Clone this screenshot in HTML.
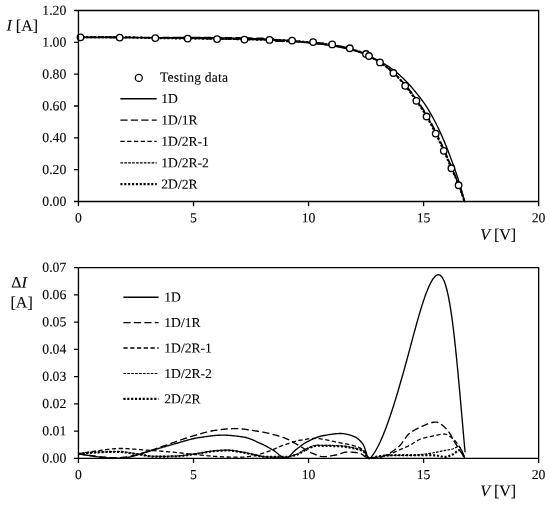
<!DOCTYPE html>
<html lang="en"><head><meta charset="utf-8"><title>I-V characteristics and errors</title>
<style>html,body{margin:0;padding:0;background:#fff}svg{display:block}</style></head>
<body>
<svg width="550" height="505" viewBox="0 0 550 505" font-family="'Liberation Serif', 'Times New Roman', serif" fill="#000">
<style>text{stroke:#000;stroke-width:0.1px}</style>
<rect width="550" height="505" fill="#fff"/>
<g fill="none" stroke="#000" stroke-linejoin="round">
<path d="M78.45,37.00 L78.95,37.02 L80.10,37.05 L81.25,37.08 L82.41,37.10 L83.56,37.12 L84.71,37.14 L85.86,37.16 L87.01,37.18 L88.16,37.20 L89.31,37.22 L90.46,37.24 L91.61,37.26 L92.77,37.28 L93.92,37.30 L95.07,37.32 L96.22,37.33 L97.37,37.35 L98.52,37.37 L99.67,37.38 L100.82,37.39 L101.98,37.40 L103.13,37.42 L104.28,37.43 L105.43,37.44 L106.58,37.45 L107.73,37.46 L108.88,37.47 L110.03,37.48 L111.19,37.49 L112.34,37.50 L113.49,37.51 L114.64,37.52 L115.79,37.53 L116.94,37.54 L118.09,37.55 L119.25,37.56 L120.40,37.57 L121.55,37.57 L122.70,37.58 L123.85,37.58 L125.00,37.59 L126.15,37.60 L127.30,37.60 L128.45,37.61 L129.61,37.61 L130.76,37.61 L131.91,37.62 L133.06,37.62 L134.21,37.62 L135.36,37.61 L136.51,37.61 L137.66,37.61 L138.82,37.61 L139.97,37.60 L141.12,37.60 L142.27,37.60 L143.42,37.60 L144.57,37.59 L145.72,37.59 L146.88,37.59 L148.03,37.58 L149.18,37.58 L150.33,37.58 L151.48,37.57 L152.63,37.56 L153.78,37.56 L154.93,37.55 L156.08,37.55 L157.24,37.54 L158.39,37.53 L159.54,37.53 L160.69,37.52 L161.84,37.51 L162.99,37.51 L164.14,37.50 L165.30,37.50 L166.45,37.49 L167.60,37.49 L168.75,37.48 L169.90,37.47 L171.05,37.47 L172.20,37.46 L173.35,37.45 L174.50,37.45 L175.66,37.44 L176.81,37.44 L177.96,37.43 L179.11,37.42 L180.26,37.42 L181.41,37.41 L182.56,37.41 L183.72,37.40 L184.87,37.40 L186.02,37.39 L187.17,37.39 L188.32,37.39 L189.47,37.38 L190.62,37.38 L191.77,37.38 L192.93,37.38 L194.08,37.38 L195.23,37.38 L196.38,37.38 L197.53,37.38 L198.68,37.38 L199.83,37.38 L200.98,37.38 L202.13,37.38 L203.29,37.38 L204.44,37.38 L205.59,37.38 L206.74,37.38 L207.89,37.39 L209.04,37.39 L210.19,37.40 L211.35,37.40 L212.50,37.41 L213.65,37.42 L214.80,37.43 L215.95,37.44 L217.10,37.45 L218.25,37.46 L219.40,37.48 L220.56,37.49 L221.71,37.50 L222.86,37.52 L224.01,37.53 L225.16,37.55 L226.31,37.56 L227.46,37.58 L228.61,37.60 L229.76,37.62 L230.92,37.64 L232.07,37.65 L233.22,37.67 L234.37,37.70 L235.52,37.72 L236.67,37.74 L237.82,37.76 L238.97,37.79 L240.13,37.81 L241.28,37.83 L242.43,37.86 L243.58,37.88 L244.73,37.91 L245.88,37.93 L247.03,37.96 L248.19,37.98 L249.34,38.00 L250.49,38.03 L251.64,38.05 L252.79,38.07 L253.94,38.09 L255.09,38.12 L256.24,38.14 L257.39,38.16 L258.55,38.19 L259.70,38.21 L260.85,38.23 L262.00,38.26 L263.15,38.28 L264.30,38.31 L265.45,38.34 L266.61,38.37 L267.76,38.40 L268.91,38.44 L270.06,38.47 L271.21,38.51 L272.36,38.55 L273.51,38.59 L274.66,41.38 L275.81,41.39 L276.97,41.40 L278.12,41.41 L279.27,41.42 L280.42,41.43 L281.57,41.45 L282.72,41.46 L283.87,41.48 L285.02,41.50 L286.18,41.51 L287.33,41.53 L288.48,41.54 L289.63,41.55 L290.78,41.56 L291.93,41.58 L293.08,41.59 L294.24,41.60 L295.39,41.63 L296.54,41.65 L297.69,41.68 L298.84,41.72 L299.99,41.75 L301.14,41.79 L302.29,41.84 L303.44,41.88 L304.60,41.93 L305.75,41.97 L306.90,42.03 L308.05,42.08 L309.20,42.14 L310.35,42.21 L311.50,42.27 L312.66,42.35 L313.81,42.42 L314.96,42.50 L316.11,42.58 L317.26,42.67 L318.41,42.76 L319.56,42.86 L320.71,42.96 L321.87,43.08 L323.02,43.21 L324.17,43.35 L325.32,43.49 L326.47,43.65 L327.62,43.81 L328.77,43.97 L329.92,44.14 L331.07,44.32 L332.23,44.51 L333.38,44.70 L334.53,44.91 L335.68,45.13 L336.83,45.36 L337.98,45.60 L339.13,45.86 L340.29,46.13 L341.44,46.40 L342.59,46.69 L343.74,46.98 L344.89,47.28 L346.04,47.57 L347.19,47.87 L348.34,48.17 L349.50,48.48 L350.65,48.79 L351.80,49.11 L352.95,49.44 L354.10,49.77 L355.25,50.11 L356.40,50.47 L357.55,50.85 L358.71,51.24 L359.86,51.64 L361.01,52.05 L362.16,52.47 L363.31,52.91 L364.46,53.38 L365.61,53.88 L366.76,54.48 L367.92,55.26 L369.07,56.04 L370.22,56.74 L371.37,57.41 L372.52,58.05 L373.67,58.68 L374.82,59.31 L375.97,59.94 L377.12,60.59 L378.28,61.26 L379.43,61.96 L380.58,62.71 L381.73,63.49 L382.88,64.28 L384.03,65.10 L385.18,65.94 L386.33,66.80 L387.49,67.68 L388.64,68.58 L389.79,69.50 L390.94,70.45 L392.09,71.42 L393.24,72.42 L394.39,73.44 L395.55,74.51 L396.70,75.62 L397.85,76.77 L399.00,77.96 L400.15,79.16 L401.30,80.38 L402.45,81.61 L403.60,82.87 L404.75,84.14 L405.91,85.44 L407.06,86.78 L408.21,88.18 L409.36,89.63 L410.51,91.12 L411.66,92.64 L412.81,94.20 L413.97,95.77 L415.12,97.37 L416.27,98.98 L417.42,100.60 L418.57,102.24 L419.72,103.89 L420.87,105.58 L422.02,107.30 L423.18,109.05 L424.33,110.84 L425.48,112.68 L426.63,114.57 L427.78,116.53 L428.93,118.55 L430.08,120.64 L431.23,122.79 L432.38,124.98 L433.54,127.21 L434.69,129.47 L435.84,131.76 L436.99,134.10 L438.14,136.50 L439.29,138.96 L440.44,141.46 L441.60,144.00 L442.75,146.57 L443.90,149.16 L445.05,151.79 L446.20,154.45 L447.35,157.15 L448.50,159.90 L449.65,162.67 L450.80,165.46 L451.96,168.26 L453.11,171.03 L454.26,173.79 L455.41,176.57 L456.56,179.40 L457.71,182.31 L458.86,185.32 L460.02,188.44 L461.17,191.66 L462.32,194.96 L463.47,198.35 L464.62,201.50 L465.08,201.50" stroke-width="1.35" stroke-dasharray="7.2 3.27"/>
<path d="M78.45,37.00 L78.95,37.00 L80.10,37.01 L81.25,37.02 L82.41,37.02 L83.56,37.02 L84.71,37.03 L85.86,37.03 L87.01,37.03 L88.16,37.03 L89.31,37.03 L90.46,37.03 L91.61,37.02 L92.77,37.02 L93.92,37.02 L95.07,37.02 L96.22,37.02 L97.37,37.02 L98.52,37.01 L99.67,37.01 L100.82,37.01 L101.98,37.01 L103.13,37.00 L104.28,37.00 L105.43,37.00 L106.58,37.00 L107.73,36.99 L108.88,36.99 L110.03,36.99 L111.19,36.99 L112.34,36.99 L113.49,36.99 L114.64,37.00 L115.79,37.00 L116.94,37.01 L118.09,37.01 L119.25,37.02 L120.40,37.03 L121.55,37.05 L122.70,37.06 L123.85,37.07 L125.00,37.09 L126.15,37.11 L127.30,37.12 L128.45,37.14 L129.61,37.16 L130.76,37.18 L131.91,37.20 L133.06,37.22 L134.21,37.24 L135.36,37.27 L136.51,37.29 L137.66,37.31 L138.82,37.33 L139.97,37.36 L141.12,37.38 L142.27,37.40 L143.42,37.43 L144.57,37.45 L145.72,37.47 L146.88,37.49 L148.03,37.52 L149.18,37.54 L150.33,37.56 L151.48,37.58 L152.63,37.61 L153.78,37.63 L154.93,37.65 L156.08,37.67 L157.24,37.69 L158.39,37.72 L159.54,37.74 L160.69,37.76 L161.84,37.78 L162.99,37.81 L164.14,37.83 L165.30,37.85 L166.45,37.88 L167.60,37.90 L168.75,37.92 L169.90,37.95 L171.05,37.97 L172.20,37.99 L173.35,38.02 L174.50,38.04 L175.66,38.06 L176.81,38.09 L177.96,38.11 L179.11,38.14 L180.26,38.16 L181.41,38.19 L182.56,38.22 L183.72,38.24 L184.87,38.27 L186.02,38.29 L187.17,38.32 L188.32,38.35 L189.47,38.37 L190.62,38.40 L191.77,38.42 L192.93,38.45 L194.08,38.48 L195.23,38.50 L196.38,38.53 L197.53,38.56 L198.68,38.58 L199.83,38.61 L200.98,38.63 L202.13,38.66 L203.29,38.69 L204.44,38.71 L205.59,38.74 L206.74,38.77 L207.89,38.79 L209.04,38.82 L210.19,38.85 L211.35,38.87 L212.50,38.90 L213.65,38.92 L214.80,38.95 L215.95,38.97 L217.10,39.00 L218.25,39.02 L219.40,39.05 L220.56,39.07 L221.71,39.09 L222.86,39.12 L224.01,39.14 L225.16,39.17 L226.31,39.19 L227.46,39.22 L228.61,39.24 L229.76,39.27 L230.92,39.29 L232.07,39.32 L233.22,39.34 L234.37,39.36 L235.52,39.39 L236.67,39.41 L237.82,39.43 L238.97,39.45 L240.13,39.47 L241.28,39.49 L242.43,39.50 L243.58,39.51 L244.73,39.53 L245.88,39.54 L247.03,39.54 L248.19,39.55 L249.34,39.56 L250.49,39.56 L251.64,39.56 L252.79,39.57 L253.94,39.57 L255.09,39.56 L256.24,39.56 L257.39,39.55 L258.55,39.55 L259.70,39.54 L260.85,39.53 L262.00,39.52 L263.15,39.51 L264.30,39.50 L265.45,39.49 L266.61,39.49 L267.76,39.48 L268.91,39.48 L270.06,39.47 L271.21,39.47 L272.36,39.46 L273.51,39.46 L274.66,40.56 L275.81,40.62 L276.97,40.67 L278.12,40.74 L279.27,40.80 L280.42,40.86 L281.57,40.92 L282.72,40.99 L283.87,41.05 L285.02,41.11 L286.18,41.18 L287.33,41.25 L288.48,41.31 L289.63,41.38 L290.78,41.45 L291.93,41.52 L293.08,41.60 L294.24,41.67 L295.39,41.75 L296.54,41.83 L297.69,41.92 L298.84,42.01 L299.99,42.10 L301.14,42.19 L302.29,42.28 L303.44,42.38 L304.60,42.48 L305.75,42.58 L306.90,42.69 L308.05,42.79 L309.20,42.90 L310.35,43.01 L311.50,43.11 L312.66,43.22 L313.81,43.32 L314.96,43.43 L316.11,43.54 L317.26,43.65 L318.41,43.76 L319.56,43.87 L320.71,43.99 L321.87,44.11 L323.02,44.23 L324.17,44.35 L325.32,44.48 L326.47,44.61 L327.62,44.75 L328.77,44.89 L329.92,45.04 L331.07,45.19 L332.23,45.35 L333.38,45.52 L334.53,45.70 L335.68,45.89 L336.83,46.09 L337.98,46.31 L339.13,46.53 L340.29,46.76 L341.44,47.00 L342.59,47.25 L343.74,47.51 L344.89,47.78 L346.04,48.05 L347.19,48.33 L348.34,48.62 L349.50,48.92 L350.65,49.21 L351.80,49.52 L352.95,49.83 L354.10,50.15 L355.25,50.48 L356.40,50.82 L357.55,51.18 L358.71,51.56 L359.86,51.95 L361.01,52.35 L362.16,52.77 L363.31,53.21 L364.46,53.68 L365.61,54.16 L366.76,54.67 L367.92,55.33 L369.07,56.04 L370.22,56.74 L371.37,57.41 L372.52,58.05 L373.67,58.68 L374.82,59.31 L375.97,59.94 L377.12,60.59 L378.28,61.26 L379.43,61.97 L380.58,62.72 L381.73,63.50 L382.88,64.30 L384.03,65.12 L385.18,65.96 L386.33,66.83 L387.49,67.72 L388.64,68.64 L389.79,69.58 L390.94,70.54 L392.09,71.52 L393.24,72.53 L394.39,73.57 L395.55,74.66 L396.70,75.79 L397.85,76.96 L399.00,78.17 L400.15,79.41 L401.30,80.68 L402.45,81.98 L403.60,83.30 L404.75,84.64 L405.91,86.00 L407.06,87.41 L408.21,88.85 L409.36,90.33 L410.51,91.84 L411.66,93.37 L412.81,94.92 L413.97,96.50 L415.12,98.09 L416.27,99.69 L417.42,101.30 L418.57,102.94 L419.72,104.59 L420.87,106.28 L422.02,108.00 L423.18,109.76 L424.33,111.57 L425.48,113.42 L426.63,115.32 L427.78,117.29 L428.93,119.33 L430.08,121.43 L431.23,123.58 L432.38,125.77 L433.54,128.00 L434.69,130.25 L435.84,132.53 L436.99,134.85 L438.14,137.22 L439.29,139.63 L440.44,142.08 L441.60,144.56 L442.75,147.07 L443.90,149.60 L445.05,152.16 L446.20,154.78 L447.35,157.44 L448.50,160.13 L449.65,162.85 L450.80,165.58 L451.96,168.30 L453.11,171.01 L454.26,173.71 L455.41,176.45 L456.56,179.25 L457.71,182.14 L458.86,185.15 L460.02,188.27 L461.17,191.51 L462.32,194.86 L463.47,198.31 L464.62,201.50 L465.08,201.50" stroke-width="1.3" stroke-dasharray="4.25 2.52"/>
<path d="M78.45,37.00 L78.95,37.00 L80.10,37.02 L81.25,37.03 L82.41,37.04 L83.56,37.04 L84.71,37.05 L85.86,37.06 L87.01,37.06 L88.16,37.06 L89.31,37.07 L90.46,37.07 L91.61,37.07 L92.77,37.08 L93.92,37.08 L95.07,37.08 L96.22,37.09 L97.37,37.09 L98.52,37.09 L99.67,37.10 L100.82,37.10 L101.98,37.10 L103.13,37.11 L104.28,37.11 L105.43,37.11 L106.58,37.12 L107.73,37.12 L108.88,37.13 L110.03,37.13 L111.19,37.14 L112.34,37.14 L113.49,37.15 L114.64,37.16 L115.79,37.17 L116.94,37.18 L118.09,37.19 L119.25,37.20 L120.40,37.22 L121.55,37.23 L122.70,37.25 L123.85,37.27 L125.00,37.29 L126.15,37.32 L127.30,37.34 L128.45,37.37 L129.61,37.39 L130.76,37.42 L131.91,37.44 L133.06,37.47 L134.21,37.50 L135.36,37.52 L136.51,37.55 L137.66,37.58 L138.82,37.60 L139.97,37.63 L141.12,37.66 L142.27,37.69 L143.42,37.72 L144.57,37.75 L145.72,37.78 L146.88,37.81 L148.03,37.84 L149.18,37.87 L150.33,37.90 L151.48,37.92 L152.63,37.94 L153.78,37.96 L154.93,37.98 L156.08,38.00 L157.24,38.02 L158.39,38.03 L159.54,38.05 L160.69,38.07 L161.84,38.08 L162.99,38.10 L164.14,38.12 L165.30,38.13 L166.45,38.15 L167.60,38.17 L168.75,38.18 L169.90,38.20 L171.05,38.21 L172.20,38.23 L173.35,38.25 L174.50,38.26 L175.66,38.28 L176.81,38.29 L177.96,38.31 L179.11,38.32 L180.26,38.33 L181.41,38.34 L182.56,38.35 L183.72,38.36 L184.87,38.37 L186.02,38.38 L187.17,38.39 L188.32,38.40 L189.47,38.41 L190.62,38.42 L191.77,38.43 L192.93,38.44 L194.08,38.45 L195.23,38.46 L196.38,38.47 L197.53,38.48 L198.68,38.49 L199.83,38.50 L200.98,38.50 L202.13,38.51 L203.29,38.52 L204.44,38.53 L205.59,38.54 L206.74,38.54 L207.89,38.55 L209.04,38.56 L210.19,38.57 L211.35,38.58 L212.50,38.59 L213.65,38.61 L214.80,38.62 L215.95,38.63 L217.10,38.65 L218.25,38.67 L219.40,38.68 L220.56,38.70 L221.71,38.72 L222.86,38.74 L224.01,38.76 L225.16,38.78 L226.31,38.80 L227.46,38.82 L228.61,38.84 L229.76,38.87 L230.92,38.90 L232.07,38.93 L233.22,38.96 L234.37,38.99 L235.52,39.02 L236.67,39.05 L237.82,39.08 L238.97,39.12 L240.13,39.15 L241.28,39.18 L242.43,39.21 L243.58,39.24 L244.73,39.27 L245.88,39.29 L247.03,39.32 L248.19,39.35 L249.34,39.38 L250.49,39.41 L251.64,39.44 L252.79,39.47 L253.94,39.50 L255.09,39.52 L256.24,39.55 L257.39,39.58 L258.55,39.61 L259.70,39.63 L260.85,39.66 L262.00,39.68 L263.15,39.71 L264.30,39.73 L265.45,39.75 L266.61,39.77 L267.76,39.79 L268.91,39.81 L270.06,39.83 L271.21,39.86 L272.36,39.88 L273.51,39.91 L274.66,40.08 L275.81,40.10 L276.97,40.13 L278.12,40.16 L279.27,40.20 L280.42,40.23 L281.57,40.27 L282.72,40.30 L283.87,40.34 L285.02,40.38 L286.18,40.43 L287.33,40.48 L288.48,40.54 L289.63,40.60 L290.78,40.67 L291.93,40.74 L293.08,40.81 L294.24,40.89 L295.39,40.98 L296.54,41.07 L297.69,41.16 L298.84,41.27 L299.99,41.38 L301.14,41.50 L302.29,41.63 L303.44,41.75 L304.60,41.88 L305.75,42.01 L306.90,42.14 L308.05,42.27 L309.20,42.39 L310.35,42.52 L311.50,42.64 L312.66,42.77 L313.81,42.90 L314.96,43.02 L316.11,43.14 L317.26,43.26 L318.41,43.37 L319.56,43.49 L320.71,43.62 L321.87,43.74 L323.02,43.88 L324.17,44.01 L325.32,44.15 L326.47,44.30 L327.62,44.45 L328.77,44.60 L329.92,44.77 L331.07,44.93 L332.23,45.10 L333.38,45.28 L334.53,45.48 L335.68,45.68 L336.83,45.89 L337.98,46.11 L339.13,46.35 L340.29,46.59 L341.44,46.84 L342.59,47.10 L343.74,47.36 L344.89,47.63 L346.04,47.91 L347.19,48.19 L348.34,48.48 L349.50,48.78 L350.65,49.08 L351.80,49.39 L352.95,49.70 L354.10,50.03 L355.25,50.36 L356.40,50.72 L357.55,51.08 L358.71,51.47 L359.86,51.87 L361.01,52.29 L362.16,52.72 L363.31,53.18 L364.46,53.64 L365.61,54.07 L366.76,54.58 L367.92,55.29 L369.07,56.04 L370.22,56.74 L371.37,57.40 L372.52,58.04 L373.67,58.66 L374.82,59.27 L375.97,59.90 L377.12,60.54 L378.28,61.21 L379.43,61.92 L380.58,62.68 L381.73,63.46 L382.88,64.27 L384.03,65.10 L385.18,65.96 L386.33,66.84 L387.49,67.75 L388.64,68.69 L389.79,69.65 L390.94,70.64 L392.09,71.65 L393.24,72.69 L394.39,73.77 L395.55,74.88 L396.70,76.05 L397.85,77.25 L399.00,78.48 L400.15,79.75 L401.30,81.05 L402.45,82.38 L403.60,83.73 L404.75,85.10 L405.91,86.49 L407.06,87.92 L408.21,89.39 L409.36,90.90 L410.51,92.45 L411.66,94.02 L412.81,95.61 L413.97,97.22 L415.12,98.85 L416.27,100.49 L417.42,102.14 L418.57,103.81 L419.72,105.49 L420.87,107.20 L422.02,108.93 L423.18,110.70 L424.33,112.52 L425.48,114.38 L426.63,116.29 L427.78,118.26 L428.93,120.31 L430.08,122.41 L431.23,124.56 L432.38,126.76 L433.54,128.99 L434.69,131.25 L435.84,133.53 L436.99,135.85 L438.14,138.21 L439.29,140.62 L440.44,143.07 L441.60,145.55 L442.75,148.05 L443.90,150.57 L445.05,153.12 L446.20,155.71 L447.35,158.33 L448.50,160.97 L449.65,163.63 L450.80,166.29 L451.96,168.95 L453.11,171.58 L454.26,174.20 L455.41,176.83 L456.56,179.52 L457.71,182.29 L458.86,185.19 L460.02,188.26 L461.17,191.48 L462.32,194.81 L463.47,198.29 L464.62,201.50 L465.08,201.50" stroke-width="1.2" stroke-dasharray="2.7 1.2"/>
<path d="M78.45,37.00 L78.95,37.00 L80.10,37.02 L81.25,37.03 L82.41,37.04 L83.56,37.05 L84.71,37.06 L85.86,37.06 L87.01,37.07 L88.16,37.07 L89.31,37.08 L90.46,37.08 L91.61,37.09 L92.77,37.09 L93.92,37.10 L95.07,37.10 L96.22,37.10 L97.37,37.11 L98.52,37.11 L99.67,37.11 L100.82,37.12 L101.98,37.12 L103.13,37.12 L104.28,37.13 L105.43,37.13 L106.58,37.13 L107.73,37.14 L108.88,37.14 L110.03,37.15 L111.19,37.15 L112.34,37.16 L113.49,37.17 L114.64,37.17 L115.79,37.18 L116.94,37.19 L118.09,37.20 L119.25,37.22 L120.40,37.23 L121.55,37.25 L122.70,37.27 L123.85,37.29 L125.00,37.31 L126.15,37.33 L127.30,37.36 L128.45,37.38 L129.61,37.41 L130.76,37.43 L131.91,37.46 L133.06,37.49 L134.21,37.51 L135.36,37.54 L136.51,37.57 L137.66,37.59 L138.82,37.62 L139.97,37.65 L141.12,37.68 L142.27,37.71 L143.42,37.74 L144.57,37.77 L145.72,37.80 L146.88,37.83 L148.03,37.86 L149.18,37.88 L150.33,37.91 L151.48,37.94 L152.63,37.96 L153.78,37.98 L154.93,38.00 L156.08,38.02 L157.24,38.03 L158.39,38.05 L159.54,38.07 L160.69,38.08 L161.84,38.10 L162.99,38.12 L164.14,38.13 L165.30,38.15 L166.45,38.17 L167.60,38.18 L168.75,38.20 L169.90,38.21 L171.05,38.23 L172.20,38.25 L173.35,38.26 L174.50,38.28 L175.66,38.29 L176.81,38.31 L177.96,38.32 L179.11,38.34 L180.26,38.35 L181.41,38.36 L182.56,38.37 L183.72,38.38 L184.87,38.39 L186.02,38.40 L187.17,38.41 L188.32,38.42 L189.47,38.43 L190.62,38.44 L191.77,38.44 L192.93,38.45 L194.08,38.46 L195.23,38.47 L196.38,38.48 L197.53,38.49 L198.68,38.50 L199.83,38.51 L200.98,38.52 L202.13,38.53 L203.29,38.54 L204.44,38.54 L205.59,38.55 L206.74,38.56 L207.89,38.57 L209.04,38.58 L210.19,38.59 L211.35,38.60 L212.50,38.61 L213.65,38.62 L214.80,38.64 L215.95,38.65 L217.10,38.67 L218.25,38.68 L219.40,38.70 L220.56,38.72 L221.71,38.73 L222.86,38.75 L224.01,38.77 L225.16,38.79 L226.31,38.81 L227.46,38.84 L228.61,38.86 L229.76,38.88 L230.92,38.91 L232.07,38.94 L233.22,38.97 L234.37,39.00 L235.52,39.04 L236.67,39.07 L237.82,39.10 L238.97,39.13 L240.13,39.16 L241.28,39.20 L242.43,39.23 L243.58,39.25 L244.73,39.28 L245.88,39.31 L247.03,39.34 L248.19,39.37 L249.34,39.40 L250.49,39.42 L251.64,39.45 L252.79,39.48 L253.94,39.51 L255.09,39.54 L256.24,39.56 L257.39,39.59 L258.55,39.62 L259.70,39.64 L260.85,39.67 L262.00,39.69 L263.15,39.71 L264.30,39.73 L265.45,39.75 L266.61,39.77 L267.76,39.79 L268.91,39.81 L270.06,39.83 L271.21,39.85 L272.36,39.88 L273.51,39.90 L274.66,40.09 L275.81,40.11 L276.97,40.14 L278.12,40.18 L279.27,40.21 L280.42,40.24 L281.57,40.28 L282.72,40.32 L283.87,40.36 L285.02,40.40 L286.18,40.44 L287.33,40.49 L288.48,40.54 L289.63,40.60 L290.78,40.66 L291.93,40.73 L293.08,40.80 L294.24,40.87 L295.39,40.95 L296.54,41.03 L297.69,41.13 L298.84,41.23 L299.99,41.34 L301.14,41.46 L302.29,41.59 L303.44,41.72 L304.60,41.85 L305.75,41.98 L306.90,42.11 L308.05,42.23 L309.20,42.36 L310.35,42.48 L311.50,42.61 L312.66,42.74 L313.81,42.86 L314.96,42.99 L316.11,43.11 L317.26,43.22 L318.41,43.34 L319.56,43.46 L320.71,43.58 L321.87,43.71 L323.02,43.84 L324.17,43.98 L325.32,44.12 L326.47,44.27 L327.62,44.42 L328.77,44.57 L329.92,44.73 L331.07,44.90 L332.23,45.07 L333.38,45.25 L334.53,45.44 L335.68,45.65 L336.83,45.86 L337.98,46.08 L339.13,46.32 L340.29,46.56 L341.44,46.81 L342.59,47.06 L343.74,47.33 L344.89,47.60 L346.04,47.88 L347.19,48.16 L348.34,48.45 L349.50,48.75 L350.65,49.05 L351.80,49.35 L352.95,49.67 L354.10,49.99 L355.25,50.33 L356.40,50.68 L357.55,51.05 L358.71,51.43 L359.86,51.83 L361.01,52.25 L362.16,52.69 L363.31,53.15 L364.46,53.61 L365.61,54.05 L366.76,54.57 L367.92,55.29 L369.07,56.04 L370.22,56.74 L371.37,57.40 L372.52,58.03 L373.67,58.65 L374.82,59.26 L375.97,59.88 L377.12,60.52 L378.28,61.20 L379.43,61.91 L380.58,62.66 L381.73,63.44 L382.88,64.25 L384.03,65.08 L385.18,65.94 L386.33,66.82 L387.49,67.73 L388.64,68.67 L389.79,69.63 L390.94,70.62 L392.09,71.64 L393.24,72.67 L394.39,73.75 L395.55,74.87 L396.70,76.03 L397.85,77.23 L399.00,78.47 L400.15,79.73 L401.30,81.03 L402.45,82.36 L403.60,83.71 L404.75,85.08 L405.91,86.47 L407.06,87.90 L408.21,89.38 L409.36,90.89 L410.51,92.43 L411.66,94.00 L412.81,95.60 L413.97,97.21 L415.12,98.85 L416.27,100.49 L417.42,102.15 L418.57,103.82 L419.72,105.51 L420.87,107.22 L422.02,108.97 L423.18,110.75 L424.33,112.57 L425.48,114.44 L426.63,116.36 L427.78,118.35 L428.93,120.40 L430.08,122.52 L431.23,124.68 L432.38,126.89 L433.54,129.14 L434.69,131.41 L435.84,133.71 L436.99,136.05 L438.14,138.44 L439.29,140.88 L440.44,143.36 L441.60,145.86 L442.75,148.39 L443.90,150.93 L445.05,153.50 L446.20,156.10 L447.35,158.71 L448.50,161.35 L449.65,163.99 L450.80,166.64 L451.96,169.28 L453.11,171.90 L454.26,174.50 L455.41,177.12 L456.56,179.78 L457.71,182.53 L458.86,185.40 L460.02,188.42 L461.17,191.61 L462.32,194.92 L463.47,198.34 L464.62,201.50 L465.08,201.50" stroke-width="2.2" stroke-dasharray="2.1 1.76"/>
<path d="M78.45,37.50 L78.95,37.51 L80.10,37.53 L81.25,37.54 L82.41,37.54 L83.56,37.55 L84.71,37.55 L85.86,37.55 L87.01,37.55 L88.16,37.56 L89.31,37.56 L90.46,37.56 L91.61,37.55 L92.77,37.55 L93.92,37.55 L95.07,37.55 L96.22,37.54 L97.37,37.54 L98.52,37.54 L99.67,37.54 L100.82,37.54 L101.98,37.54 L103.13,37.54 L104.28,37.54 L105.43,37.54 L106.58,37.54 L107.73,37.54 L108.88,37.54 L110.03,37.54 L111.19,37.54 L112.34,37.55 L113.49,37.55 L114.64,37.56 L115.79,37.56 L116.94,37.57 L118.09,37.58 L119.25,37.59 L120.40,37.60 L121.55,37.61 L122.70,37.61 L123.85,37.62 L125.00,37.62 L126.15,37.63 L127.30,37.63 L128.45,37.64 L129.61,37.64 L130.76,37.64 L131.91,37.64 L133.06,37.64 L134.21,37.64 L135.36,37.64 L136.51,37.63 L137.66,37.63 L138.82,37.62 L139.97,37.62 L141.12,37.62 L142.27,37.61 L143.42,37.61 L144.57,37.61 L145.72,37.61 L146.88,37.61 L148.03,37.60 L149.18,37.60 L150.33,37.60 L151.48,37.59 L152.63,37.59 L153.78,37.59 L154.93,37.58 L156.08,37.58 L157.24,37.58 L158.39,37.57 L159.54,37.57 L160.69,37.57 L161.84,37.57 L162.99,37.56 L164.14,37.56 L165.30,37.56 L166.45,37.56 L167.60,37.56 L168.75,37.55 L169.90,37.55 L171.05,37.55 L172.20,37.55 L173.35,37.55 L174.50,37.55 L175.66,37.55 L176.81,37.55 L177.96,37.55 L179.11,37.55 L180.26,37.54 L181.41,37.54 L182.56,37.54 L183.72,37.54 L184.87,37.54 L186.02,37.54 L187.17,37.54 L188.32,37.54 L189.47,37.54 L190.62,37.54 L191.77,37.54 L192.93,37.54 L194.08,37.55 L195.23,37.55 L196.38,37.56 L197.53,37.57 L198.68,37.58 L199.83,37.59 L200.98,37.60 L202.13,37.60 L203.29,37.61 L204.44,37.62 L205.59,37.63 L206.74,37.64 L207.89,37.65 L209.04,37.67 L210.19,37.68 L211.35,37.69 L212.50,37.70 L213.65,37.72 L214.80,37.73 L215.95,37.74 L217.10,37.76 L218.25,37.78 L219.40,37.79 L220.56,37.81 L221.71,37.83 L222.86,37.85 L224.01,37.88 L225.16,37.90 L226.31,37.93 L227.46,37.95 L228.61,37.98 L229.76,38.00 L230.92,38.03 L232.07,38.06 L233.22,38.09 L234.37,38.12 L235.52,38.15 L236.67,38.18 L237.82,38.20 L238.97,38.23 L240.13,38.26 L241.28,38.29 L242.43,38.32 L243.58,38.35 L244.73,38.38 L245.88,38.41 L247.03,38.44 L248.19,38.47 L249.34,38.51 L250.49,38.55 L251.64,38.59 L252.79,38.63 L253.94,38.67 L255.09,38.71 L256.24,38.75 L257.39,38.79 L258.55,38.84 L259.70,38.88 L260.85,38.92 L262.00,38.96 L263.15,39.01 L264.30,39.06 L265.45,39.11 L266.61,39.16 L267.76,39.22 L268.91,39.27 L270.06,39.33 L271.21,39.39 L272.36,39.45 L273.51,39.52 L274.66,39.59 L275.81,39.67 L276.97,39.75 L278.12,39.84 L279.27,39.93 L280.42,40.02 L281.57,40.11 L282.72,40.19 L283.87,40.26 L285.02,40.32 L286.18,40.36 L287.33,40.43 L288.48,40.52 L289.63,40.62 L290.78,40.74 L291.93,40.87 L293.08,40.99 L294.24,41.12 L295.39,41.24 L296.54,41.36 L297.69,41.48 L298.84,41.60 L299.99,41.73 L301.14,41.86 L302.29,41.99 L303.44,42.13 L304.60,42.26 L305.75,42.39 L306.90,42.52 L308.05,42.65 L309.20,42.78 L310.35,42.92 L311.50,43.05 L312.66,43.18 L313.81,43.31 L314.96,43.45 L316.11,43.58 L317.26,43.72 L318.41,43.86 L319.56,44.00 L320.71,44.14 L321.87,44.29 L323.02,44.43 L324.17,44.58 L325.32,44.74 L326.47,44.90 L327.62,45.06 L328.77,45.23 L329.92,45.40 L331.07,45.58 L332.23,45.77 L333.38,45.96 L334.53,46.16 L335.68,46.37 L336.83,46.59 L337.98,46.82 L339.13,47.06 L340.29,47.31 L341.44,47.56 L342.59,47.82 L343.74,48.08 L344.89,48.35 L346.04,48.63 L347.19,48.91 L348.34,49.19 L349.50,49.48 L350.65,49.78 L351.80,50.07 L352.95,50.38 L354.10,50.69 L355.25,51.02 L356.40,51.34 L357.55,51.68 L358.71,52.02 L359.86,52.38 L361.01,52.75 L362.16,53.13 L363.31,53.53 L364.46,53.91 L365.61,54.24 L366.76,54.66 L367.92,55.30 L369.07,56.04 L370.22,56.74 L371.37,57.33 L372.52,57.89 L373.67,58.43 L374.82,58.96 L375.97,59.48 L377.12,60.02 L378.28,60.57 L379.43,61.16 L380.58,61.78 L381.73,62.42 L382.88,63.08 L384.03,63.75 L385.18,64.45 L386.33,65.16 L387.49,65.89 L388.64,66.64 L389.79,67.41 L390.94,68.20 L392.09,69.01 L393.24,69.84 L394.39,70.70 L395.55,71.60 L396.70,72.55 L397.85,73.52 L399.00,74.53 L400.15,75.57 L401.30,76.63 L402.45,77.72 L403.60,78.83 L404.75,79.96 L405.91,81.11 L407.06,82.29 L408.21,83.52 L409.36,84.78 L410.51,86.07 L411.66,87.40 L412.81,88.74 L413.97,90.11 L415.12,91.49 L416.27,92.89 L417.42,94.31 L418.57,95.74 L419.72,97.20 L420.87,98.69 L422.02,100.22 L423.18,101.79 L424.33,103.41 L425.48,105.09 L426.63,106.83 L427.78,108.65 L428.93,110.55 L430.08,112.52 L431.23,114.55 L432.38,116.65 L433.54,118.79 L434.69,120.98 L435.84,123.21 L436.99,125.50 L438.14,127.86 L439.29,130.30 L440.44,132.79 L441.60,135.35 L442.75,137.96 L443.90,140.63 L445.05,143.37 L446.20,146.19 L447.35,149.08 L448.50,152.05 L449.65,155.08 L450.80,158.16 L451.96,161.30 L453.11,164.47 L454.26,167.67 L455.41,170.95 L456.56,174.32 L457.71,177.81 L458.86,181.44 L460.02,185.20 L461.17,189.07 L462.32,193.04 L463.47,197.09 L464.62,201.21 L465.08,201.50" stroke-width="1.35" />
</g>
<g fill="#fff" stroke="#000" stroke-width="1.35">
<circle cx="80.5" cy="37.3" r="3.25"/>
<circle cx="119.7" cy="37.6" r="3.25"/>
<circle cx="155.3" cy="38.1" r="3.25"/>
<circle cx="187.7" cy="38.6" r="3.25"/>
<circle cx="217.1" cy="39.1" r="3.25"/>
<circle cx="244.4" cy="39.6" r="3.25"/>
<circle cx="269.5" cy="39.9" r="3.25"/>
<circle cx="292.1" cy="40.6" r="3.25"/>
<circle cx="313.1" cy="42.1" r="3.25"/>
<circle cx="332.2" cy="44.4" r="3.25"/>
<circle cx="349.8" cy="48.2" r="3.25"/>
<circle cx="366.0" cy="54.0" r="3.25"/>
<circle cx="369.0" cy="56.0" r="3.25"/>
<circle cx="380.0" cy="62.4" r="3.25"/>
<circle cx="393.4" cy="73.0" r="3.25"/>
<circle cx="405.2" cy="85.8" r="3.25"/>
<circle cx="416.4" cy="100.8" r="3.25"/>
<circle cx="426.6" cy="116.5" r="3.25"/>
<circle cx="435.7" cy="133.6" r="3.25"/>
<circle cx="443.8" cy="150.8" r="3.25"/>
<circle cx="451.4" cy="168.2" r="3.25"/>
<circle cx="458.6" cy="185.2" r="3.25"/>
</g>
<g fill="none" stroke="#000" stroke-linejoin="round">
<path d="M78.45,453.94 L78.95,454.10 L80.10,454.27 L81.25,454.43 L82.41,454.59 L83.56,454.76 L84.71,454.92 L85.86,455.09 L87.01,455.25 L88.16,455.41 L89.31,455.58 L90.46,455.74 L91.61,455.92 L92.77,456.10 L93.92,456.28 L95.07,456.46 L96.22,456.64 L97.37,456.80 L98.52,456.95 L99.67,457.09 L100.82,457.21 L101.98,457.32 L103.13,457.43 L104.28,457.54 L105.43,457.65 L106.58,457.75 L107.73,457.85 L108.88,457.94 L110.03,458.03 L111.19,458.11 L112.34,458.17 L113.49,458.23 L114.64,458.27 L115.79,458.29 L116.94,458.30 L118.09,458.28 L119.25,458.24 L120.40,458.17 L121.55,458.07 L122.70,457.96 L123.85,457.82 L125.00,457.68 L126.15,457.53 L127.30,457.37 L128.45,457.21 L129.61,457.03 L130.76,456.80 L131.91,456.53 L133.06,456.23 L134.21,455.91 L135.36,455.56 L136.51,455.20 L137.66,454.83 L138.82,454.46 L139.97,454.10 L141.12,453.74 L142.27,453.40 L143.42,453.06 L144.57,452.72 L145.72,452.37 L146.88,452.02 L148.03,451.67 L149.18,451.31 L150.33,450.95 L151.48,450.60 L152.63,450.24 L153.78,449.88 L154.93,449.53 L156.08,449.18 L157.24,448.83 L158.39,448.49 L159.54,448.15 L160.69,447.82 L161.84,447.48 L162.99,447.15 L164.14,446.82 L165.30,446.49 L166.45,446.16 L167.60,445.83 L168.75,445.51 L169.90,445.18 L171.05,444.86 L172.20,444.54 L173.35,444.22 L174.50,443.90 L175.66,443.59 L176.81,443.27 L177.96,442.94 L179.11,442.61 L180.26,442.27 L181.41,441.93 L182.56,441.59 L183.72,441.24 L184.87,440.90 L186.02,440.57 L187.17,440.24 L188.32,439.92 L189.47,439.61 L190.62,439.31 L191.77,439.02 L192.93,438.76 L194.08,438.50 L195.23,438.27 L196.38,438.06 L197.53,437.87 L198.68,437.69 L199.83,437.51 L200.98,437.33 L202.13,437.16 L203.29,436.98 L204.44,436.81 L205.59,436.64 L206.74,436.47 L207.89,436.32 L209.04,436.16 L210.19,436.02 L211.35,435.88 L212.50,435.75 L213.65,435.63 L214.80,435.53 L215.95,435.43 L217.10,435.35 L218.25,435.28 L219.40,435.22 L220.56,435.18 L221.71,435.15 L222.86,435.14 L224.01,435.15 L225.16,435.17 L226.31,435.21 L227.46,435.26 L228.61,435.33 L229.76,435.41 L230.92,435.49 L232.07,435.59 L233.22,435.71 L234.37,435.83 L235.52,435.95 L236.67,436.09 L237.82,436.24 L238.97,436.39 L240.13,436.55 L241.28,436.71 L242.43,436.88 L243.58,437.05 L244.73,437.25 L245.88,437.51 L247.03,437.83 L248.19,438.18 L249.34,438.58 L250.49,439.01 L251.64,439.47 L252.79,439.95 L253.94,440.45 L255.09,440.96 L256.24,441.49 L257.39,442.01 L258.55,442.53 L259.70,443.04 L260.85,443.56 L262.00,444.10 L263.15,444.67 L264.30,445.25 L265.45,445.85 L266.61,446.47 L267.76,447.10 L268.91,447.74 L270.06,448.40 L271.21,449.06 L272.36,449.73 L273.51,450.40 L274.66,451.15 L275.81,452.02 L276.97,452.98 L278.12,453.97 L279.27,454.96 L280.42,455.89 L281.57,456.73 L282.72,457.43 L283.87,457.95 L285.02,458.25 L286.18,458.26 L287.33,457.87 L288.48,457.12 L289.63,456.10 L290.78,454.90 L291.93,453.61 L293.08,452.33 L294.24,451.14 L295.39,450.13 L296.54,449.23 L297.69,448.33 L298.84,447.43 L299.99,446.54 L301.14,445.67 L302.29,444.84 L303.44,444.04 L304.60,443.28 L305.75,442.59 L306.90,441.95 L308.05,441.36 L309.20,440.78 L310.35,440.21 L311.50,439.65 L312.66,439.12 L313.81,438.61 L314.96,438.12 L316.11,437.67 L317.26,437.25 L318.41,436.86 L319.56,436.52 L320.71,436.22 L321.87,435.96 L323.02,435.73 L324.17,435.51 L325.32,435.28 L326.47,435.07 L327.62,434.86 L328.77,434.66 L329.92,434.47 L331.07,434.30 L332.23,434.13 L333.38,433.99 L334.53,433.86 L335.68,433.74 L336.83,433.65 L337.98,433.58 L339.13,433.53 L340.29,433.51 L341.44,433.52 L342.59,433.58 L343.74,433.70 L344.89,433.87 L346.04,434.08 L347.19,434.33 L348.34,434.62 L349.50,434.95 L350.65,435.30 L351.80,435.68 L352.95,436.09 L354.10,436.51 L355.25,437.01 L356.40,437.68 L357.55,438.49 L358.71,439.46 L359.86,440.56 L361.01,441.80 L362.16,443.18 L363.31,444.68 L364.46,447.19 L365.61,450.87 L366.76,454.65 L367.92,457.46 L369.07,458.30 L370.22,458.30 L371.37,456.95 L372.52,455.45 L373.67,453.80 L374.82,452.01 L375.97,450.07 L377.12,447.99 L378.28,445.78 L379.43,443.44 L380.58,440.97 L381.73,438.38 L382.88,435.67 L384.03,432.85 L385.18,429.92 L386.33,426.89 L387.49,423.76 L388.64,420.52 L389.79,417.20 L390.94,413.79 L392.09,410.29 L393.24,406.71 L394.39,403.06 L395.55,399.33 L396.70,395.54 L397.85,391.69 L399.00,387.77 L400.15,383.80 L401.30,379.78 L402.45,375.71 L403.60,371.60 L404.75,367.45 L405.91,363.27 L407.06,359.06 L408.21,354.82 L409.36,350.56 L410.51,346.28 L411.66,341.99 L412.81,337.70 L413.97,333.44 L415.12,329.20 L416.27,325.02 L417.42,320.90 L418.57,316.86 L419.72,312.91 L420.87,309.06 L422.02,305.35 L423.18,301.77 L424.33,298.34 L425.48,295.08 L426.63,292.00 L427.78,289.13 L428.93,286.46 L430.08,284.02 L431.23,281.83 L432.38,279.89 L433.54,278.23 L434.69,276.85 L435.84,275.78 L436.99,275.05 L438.14,274.71 L439.29,274.81 L440.44,275.40 L441.60,276.51 L442.75,278.21 L443.90,280.53 L445.05,283.52 L446.20,287.23 L447.35,291.71 L448.50,297.01 L449.65,303.16 L450.80,310.23 L451.96,318.19 L453.11,327.01 L454.26,336.65 L455.41,347.06 L456.56,358.20 L457.71,370.01 L458.86,382.36 L460.02,395.11 L461.17,408.12 L462.32,421.24 L463.47,434.32 L464.62,447.23 L465.08,452.31" stroke-width="1.35" />
<path d="M78.45,453.94 L78.95,454.07 L80.10,454.19 L81.25,454.32 L82.41,454.45 L83.56,454.59 L84.71,454.73 L85.86,454.87 L87.01,455.01 L88.16,455.16 L89.31,455.30 L90.46,455.46 L91.61,455.64 L92.77,455.82 L93.92,456.01 L95.07,456.20 L96.22,456.38 L97.37,456.55 L98.52,456.70 L99.67,456.83 L100.82,456.94 L101.98,457.03 L103.13,457.11 L104.28,457.20 L105.43,457.28 L106.58,457.36 L107.73,457.43 L108.88,457.50 L110.03,457.56 L111.19,457.62 L112.34,457.67 L113.49,457.70 L114.64,457.73 L115.79,457.75 L116.94,457.76 L118.09,457.74 L119.25,457.69 L120.40,457.62 L121.55,457.52 L122.70,457.41 L123.85,457.28 L125.00,457.13 L126.15,456.98 L127.30,456.82 L128.45,456.67 L129.61,456.49 L130.76,456.28 L131.91,456.03 L133.06,455.76 L134.21,455.47 L135.36,455.16 L136.51,454.83 L137.66,454.49 L138.82,454.15 L139.97,453.80 L141.12,453.46 L142.27,453.12 L143.42,452.79 L144.57,452.44 L145.72,452.09 L146.88,451.72 L148.03,451.35 L149.18,450.98 L150.33,450.59 L151.48,450.21 L152.63,449.81 L153.78,449.42 L154.93,449.02 L156.08,448.61 L157.24,448.21 L158.39,447.81 L159.54,447.40 L160.69,447.00 L161.84,446.60 L162.99,446.20 L164.14,445.81 L165.30,445.42 L166.45,445.02 L167.60,444.63 L168.75,444.22 L169.90,443.82 L171.05,443.41 L172.20,442.99 L173.35,442.58 L174.50,442.16 L175.66,441.75 L176.81,441.33 L177.96,440.92 L179.11,440.51 L180.26,440.10 L181.41,439.69 L182.56,439.29 L183.72,438.89 L184.87,438.50 L186.02,438.11 L187.17,437.73 L188.32,437.36 L189.47,437.00 L190.62,436.64 L191.77,436.30 L192.93,435.96 L194.08,435.63 L195.23,435.29 L196.38,434.95 L197.53,434.61 L198.68,434.28 L199.83,433.94 L200.98,433.61 L202.13,433.28 L203.29,432.95 L204.44,432.64 L205.59,432.33 L206.74,432.04 L207.89,431.76 L209.04,431.49 L210.19,431.23 L211.35,431.00 L212.50,430.78 L213.65,430.58 L214.80,430.40 L215.95,430.24 L217.10,430.09 L218.25,429.95 L219.40,429.80 L220.56,429.66 L221.71,429.53 L222.86,429.39 L224.01,429.27 L225.16,429.15 L226.31,429.04 L227.46,428.94 L228.61,428.85 L229.76,428.77 L230.92,428.71 L232.07,428.66 L233.22,428.62 L234.37,428.61 L235.52,428.61 L236.67,428.63 L237.82,428.67 L238.97,428.73 L240.13,428.81 L241.28,428.90 L242.43,429.01 L243.58,429.13 L244.73,429.26 L245.88,429.41 L247.03,429.56 L248.19,429.72 L249.34,429.90 L250.49,430.07 L251.64,430.26 L252.79,430.45 L253.94,430.64 L255.09,430.83 L256.24,431.02 L257.39,431.22 L258.55,431.41 L259.70,431.60 L260.85,431.80 L262.00,432.00 L263.15,432.21 L264.30,432.43 L265.45,432.66 L266.61,432.90 L267.76,433.15 L268.91,433.41 L270.06,433.68 L271.21,433.96 L272.36,434.25 L273.51,434.55 L274.66,434.86 L275.81,435.18 L276.97,435.51 L278.12,435.86 L279.27,436.21 L280.42,436.57 L281.57,436.95 L282.72,437.33 L283.87,437.73 L285.02,438.14 L286.18,438.58 L287.33,439.08 L288.48,439.63 L289.63,440.22 L290.78,440.84 L291.93,441.49 L293.08,442.15 L294.24,442.83 L295.39,443.51 L296.54,444.18 L297.69,444.85 L298.84,445.50 L299.99,446.15 L301.14,446.83 L302.29,447.54 L303.44,448.26 L304.60,448.99 L305.75,449.71 L306.90,450.41 L308.05,451.09 L309.20,451.74 L310.35,452.35 L311.50,452.90 L312.66,453.40 L313.81,453.87 L314.96,454.37 L316.11,454.86 L317.26,455.33 L318.41,455.76 L319.56,456.13 L320.71,456.41 L321.87,456.60 L323.02,456.67 L324.17,456.64 L325.32,456.58 L326.47,456.49 L327.62,456.36 L328.77,456.21 L329.92,456.03 L331.07,455.85 L332.23,455.65 L333.38,455.44 L334.53,455.23 L335.68,455.03 L336.83,454.79 L337.98,454.46 L339.13,454.09 L340.29,453.69 L341.44,453.28 L342.59,452.90 L343.74,452.56 L344.89,452.28 L346.04,452.10 L347.19,452.03 L348.34,452.04 L349.50,452.07 L350.65,452.12 L351.80,452.18 L352.95,452.26 L354.10,452.35 L355.25,452.46 L356.40,452.58 L357.55,452.71 L358.71,452.85 L359.86,453.15 L361.01,453.72 L362.16,454.46 L363.31,455.30 L364.46,456.17 L365.61,456.98 L366.76,457.66 L367.92,458.13 L369.07,458.30 L370.22,458.29 L371.37,458.25 L372.52,458.19 L373.67,458.11 L374.82,458.03 L375.97,457.91 L377.12,457.74 L378.28,457.52 L379.43,457.26 L380.58,456.98 L381.73,456.67 L382.88,456.32 L384.03,455.91 L385.18,455.44 L386.33,454.92 L387.49,454.35 L388.64,453.73 L389.79,453.07 L390.94,452.36 L392.09,451.61 L393.24,450.82 L394.39,449.99 L395.55,449.14 L396.70,448.25 L397.85,447.34 L399.00,446.39 L400.15,445.24 L401.30,443.85 L402.45,442.30 L403.60,440.66 L404.75,439.00 L405.91,437.38 L407.06,435.87 L408.21,434.56 L409.36,433.51 L410.51,432.64 L411.66,431.83 L412.81,431.08 L413.97,430.38 L415.12,429.72 L416.27,429.10 L417.42,428.53 L418.57,427.98 L419.72,427.46 L420.87,426.97 L422.02,426.48 L423.18,425.97 L424.33,425.45 L425.48,424.94 L426.63,424.44 L427.78,423.96 L428.93,423.51 L430.08,423.11 L431.23,422.76 L432.38,422.47 L433.54,422.25 L434.69,422.12 L435.84,422.07 L436.99,422.19 L438.14,422.53 L439.29,423.06 L440.44,423.76 L441.60,424.59 L442.75,425.53 L443.90,426.55 L445.05,427.62 L446.20,428.71 L447.35,429.88 L448.50,431.37 L449.65,433.15 L450.80,435.12 L451.96,437.21 L453.11,439.33 L454.26,441.39 L455.41,443.32 L456.56,445.14 L457.71,446.95 L458.86,448.76 L460.02,450.55 L461.17,452.34 L462.32,454.12 L463.47,455.88 L464.62,456.94 L465.08,456.94" stroke-width="1.35" stroke-dasharray="7.2 3.27"/>
<path d="M78.45,453.94 L78.95,453.73 L80.10,453.52 L81.25,453.31 L82.41,453.11 L83.56,452.91 L84.71,452.71 L85.86,452.52 L87.01,452.33 L88.16,452.14 L89.31,451.96 L90.46,451.78 L91.61,451.61 L92.77,451.44 L93.92,451.28 L95.07,451.12 L96.22,450.96 L97.37,450.82 L98.52,450.67 L99.67,450.53 L100.82,450.38 L101.98,450.23 L103.13,450.07 L104.28,449.92 L105.43,449.76 L106.58,449.61 L107.73,449.46 L108.88,449.32 L110.03,449.18 L111.19,449.05 L112.34,448.93 L113.49,448.82 L114.64,448.73 L115.79,448.65 L116.94,448.58 L118.09,448.53 L119.25,448.50 L120.40,448.49 L121.55,448.50 L122.70,448.51 L123.85,448.54 L125.00,448.58 L126.15,448.62 L127.30,448.68 L128.45,448.74 L129.61,448.80 L130.76,448.88 L131.91,448.96 L133.06,449.04 L134.21,449.12 L135.36,449.21 L136.51,449.31 L137.66,449.40 L138.82,449.50 L139.97,449.59 L141.12,449.69 L142.27,449.78 L143.42,449.87 L144.57,449.96 L145.72,450.05 L146.88,450.13 L148.03,450.21 L149.18,450.29 L150.33,450.37 L151.48,450.45 L152.63,450.53 L153.78,450.62 L154.93,450.70 L156.08,450.79 L157.24,450.88 L158.39,450.96 L159.54,451.05 L160.69,451.14 L161.84,451.23 L162.99,451.32 L164.14,451.42 L165.30,451.51 L166.45,451.61 L167.60,451.70 L168.75,451.80 L169.90,451.90 L171.05,452.00 L172.20,452.10 L173.35,452.20 L174.50,452.31 L175.66,452.41 L176.81,452.53 L177.96,452.64 L179.11,452.76 L180.26,452.88 L181.41,453.01 L182.56,453.13 L183.72,453.26 L184.87,453.39 L186.02,453.52 L187.17,453.65 L188.32,453.78 L189.47,453.91 L190.62,454.04 L191.77,454.16 L192.93,454.29 L194.08,454.41 L195.23,454.53 L196.38,454.65 L197.53,454.76 L198.68,454.87 L199.83,454.98 L200.98,455.10 L202.13,455.22 L203.29,455.34 L204.44,455.46 L205.59,455.57 L206.74,455.69 L207.89,455.80 L209.04,455.91 L210.19,456.02 L211.35,456.12 L212.50,456.22 L213.65,456.32 L214.80,456.40 L215.95,456.48 L217.10,456.55 L218.25,456.61 L219.40,456.67 L220.56,456.71 L221.71,456.76 L222.86,456.81 L224.01,456.85 L225.16,456.90 L226.31,456.94 L227.46,456.98 L228.61,457.02 L229.76,457.06 L230.92,457.09 L232.07,457.12 L233.22,457.15 L234.37,457.17 L235.52,457.19 L236.67,457.20 L237.82,457.21 L238.97,457.21 L240.13,457.20 L241.28,457.16 L242.43,457.11 L243.58,457.04 L244.73,456.95 L245.88,456.84 L247.03,456.73 L248.19,456.60 L249.34,456.46 L250.49,456.32 L251.64,456.18 L252.79,456.02 L253.94,455.83 L255.09,455.59 L256.24,455.32 L257.39,455.02 L258.55,454.69 L259.70,454.33 L260.85,453.97 L262.00,453.59 L263.15,453.20 L264.30,452.81 L265.45,452.42 L266.61,452.03 L267.76,451.64 L268.91,451.22 L270.06,450.78 L271.21,450.32 L272.36,449.85 L273.51,449.36 L274.66,448.87 L275.81,448.37 L276.97,447.87 L278.12,447.37 L279.27,446.88 L280.42,446.41 L281.57,445.94 L282.72,445.50 L283.87,445.08 L285.02,444.68 L286.18,444.29 L287.33,443.91 L288.48,443.52 L289.63,443.13 L290.78,442.76 L291.93,442.39 L293.08,442.03 L294.24,441.68 L295.39,441.35 L296.54,441.04 L297.69,440.75 L298.84,440.49 L299.99,440.25 L301.14,440.05 L302.29,439.85 L303.44,439.66 L304.60,439.47 L305.75,439.28 L306.90,439.11 L308.05,438.94 L309.20,438.80 L310.35,438.67 L311.50,438.56 L312.66,438.48 L313.81,438.43 L314.96,438.41 L316.11,438.43 L317.26,438.49 L318.41,438.58 L319.56,438.70 L320.71,438.85 L321.87,439.03 L323.02,439.22 L324.17,439.44 L325.32,439.67 L326.47,439.91 L327.62,440.17 L328.77,440.43 L329.92,440.69 L331.07,440.96 L332.23,441.22 L333.38,441.47 L334.53,441.72 L335.68,441.95 L336.83,442.18 L337.98,442.40 L339.13,442.61 L340.29,442.82 L341.44,443.03 L342.59,443.24 L343.74,443.45 L344.89,443.67 L346.04,443.89 L347.19,444.13 L348.34,444.37 L349.50,444.63 L350.65,444.90 L351.80,445.19 L352.95,445.50 L354.10,445.83 L355.25,446.19 L356.40,446.56 L357.55,446.97 L358.71,447.40 L359.86,447.91 L361.01,448.53 L362.16,449.28 L363.31,450.15 L364.46,451.16 L365.61,452.31 L366.76,454.40 L367.92,457.02 L369.07,458.30 L370.22,458.28 L371.37,458.24 L372.52,458.17 L373.67,458.09 L374.82,457.99 L375.97,457.87 L377.12,457.76 L378.28,457.61 L379.43,457.41 L380.58,457.16 L381.73,456.87 L382.88,456.55 L384.03,456.21 L385.18,455.85 L386.33,455.48 L387.49,455.11 L388.64,454.71 L389.79,454.27 L390.94,453.79 L392.09,453.28 L393.24,452.74 L394.39,452.19 L395.55,451.63 L396.70,451.08 L397.85,450.54 L399.00,450.03 L400.15,449.53 L401.30,449.04 L402.45,448.56 L403.60,448.08 L404.75,447.59 L405.91,447.09 L407.06,446.58 L408.21,446.05 L409.36,445.50 L410.51,444.89 L411.66,444.22 L412.81,443.50 L413.97,442.77 L415.12,442.02 L416.27,441.30 L417.42,440.61 L418.57,439.97 L419.72,439.42 L420.87,438.96 L422.02,438.57 L423.18,438.21 L424.33,437.88 L425.48,437.57 L426.63,437.29 L427.78,437.02 L428.93,436.76 L430.08,436.52 L431.23,436.28 L432.38,436.04 L433.54,435.79 L434.69,435.53 L435.84,435.27 L436.99,435.02 L438.14,434.79 L439.29,434.57 L440.44,434.39 L441.60,434.24 L442.75,434.13 L443.90,434.06 L445.05,434.08 L446.20,434.32 L447.35,434.78 L448.50,435.43 L449.65,436.22 L450.80,437.09 L451.96,438.02 L453.11,438.96 L454.26,439.98 L455.41,441.19 L456.56,442.58 L457.71,444.14 L458.86,445.84 L460.02,447.68 L461.17,449.81 L462.32,452.35 L463.47,455.16 L464.62,456.94 L465.08,456.94" stroke-width="1.3" stroke-dasharray="4.25 2.52"/>
<path d="M78.45,453.94 L78.95,453.80 L80.10,453.66 L81.25,453.52 L82.41,453.39 L83.56,453.26 L84.71,453.13 L85.86,453.01 L87.01,452.89 L88.16,452.78 L89.31,452.67 L90.46,452.57 L91.61,452.47 L92.77,452.38 L93.92,452.30 L95.07,452.22 L96.22,452.15 L97.37,452.09 L98.52,452.03 L99.67,451.98 L100.82,451.93 L101.98,451.88 L103.13,451.83 L104.28,451.79 L105.43,451.74 L106.58,451.70 L107.73,451.66 L108.88,451.62 L110.03,451.59 L111.19,451.56 L112.34,451.54 L113.49,451.52 L114.64,451.50 L115.79,451.49 L116.94,451.49 L118.09,451.50 L119.25,451.54 L120.40,451.61 L121.55,451.70 L122.70,451.80 L123.85,451.93 L125.00,452.07 L126.15,452.22 L127.30,452.38 L128.45,452.55 L129.61,452.73 L130.76,452.91 L131.91,453.09 L133.06,453.27 L134.21,453.45 L135.36,453.62 L136.51,453.79 L137.66,453.94 L138.82,454.10 L139.97,454.28 L141.12,454.48 L142.27,454.69 L143.42,454.91 L144.57,455.13 L145.72,455.34 L146.88,455.55 L148.03,455.74 L149.18,455.92 L150.33,456.08 L151.48,456.21 L152.63,456.31 L153.78,456.37 L154.93,456.39 L156.08,456.39 L157.24,456.39 L158.39,456.38 L159.54,456.38 L160.69,456.37 L161.84,456.35 L162.99,456.34 L164.14,456.32 L165.30,456.31 L166.45,456.29 L167.60,456.27 L168.75,456.25 L169.90,456.22 L171.05,456.20 L172.20,456.17 L173.35,456.15 L174.50,456.12 L175.66,456.08 L176.81,456.03 L177.96,455.95 L179.11,455.86 L180.26,455.76 L181.41,455.64 L182.56,455.51 L183.72,455.37 L184.87,455.22 L186.02,455.07 L187.17,454.91 L188.32,454.74 L189.47,454.57 L190.62,454.40 L191.77,454.22 L192.93,454.05 L194.08,453.88 L195.23,453.71 L196.38,453.55 L197.53,453.40 L198.68,453.24 L199.83,453.06 L200.98,452.88 L202.13,452.69 L203.29,452.49 L204.44,452.29 L205.59,452.09 L206.74,451.89 L207.89,451.69 L209.04,451.51 L210.19,451.33 L211.35,451.16 L212.50,451.01 L213.65,450.88 L214.80,450.76 L215.95,450.67 L217.10,450.59 L218.25,450.51 L219.40,450.44 L220.56,450.37 L221.71,450.30 L222.86,450.24 L224.01,450.19 L225.16,450.16 L226.31,450.14 L227.46,450.13 L228.61,450.15 L229.76,450.20 L230.92,450.29 L232.07,450.41 L233.22,450.55 L234.37,450.72 L235.52,450.90 L236.67,451.09 L237.82,451.30 L238.97,451.50 L240.13,451.71 L241.28,451.92 L242.43,452.12 L243.58,452.31 L244.73,452.50 L245.88,452.72 L247.03,452.95 L248.19,453.21 L249.34,453.47 L250.49,453.75 L251.64,454.04 L252.79,454.32 L253.94,454.61 L255.09,454.90 L256.24,455.18 L257.39,455.45 L258.55,455.71 L259.70,455.95 L260.85,456.17 L262.00,456.38 L263.15,456.55 L264.30,456.70 L265.45,456.82 L266.61,456.90 L267.76,456.94 L268.91,456.98 L270.06,457.00 L271.21,457.03 L272.36,457.06 L273.51,457.08 L274.66,457.11 L275.81,457.13 L276.97,457.15 L278.12,457.16 L279.27,457.18 L280.42,457.19 L281.57,457.20 L282.72,457.20 L283.87,457.21 L285.02,457.21 L286.18,457.16 L287.33,457.03 L288.48,456.82 L289.63,456.54 L290.78,456.22 L291.93,455.85 L293.08,455.46 L294.24,455.04 L295.39,454.63 L296.54,454.21 L297.69,453.75 L298.84,453.18 L299.99,452.54 L301.14,451.84 L302.29,451.12 L303.44,450.39 L304.60,449.69 L305.75,449.03 L306.90,448.44 L308.05,447.95 L309.20,447.50 L310.35,447.03 L311.50,446.57 L312.66,446.15 L313.81,445.78 L314.96,445.49 L316.11,445.29 L317.26,445.22 L318.41,445.22 L319.56,445.23 L320.71,445.24 L321.87,445.25 L323.02,445.26 L324.17,445.28 L325.32,445.30 L326.47,445.32 L327.62,445.34 L328.77,445.37 L329.92,445.40 L331.07,445.43 L332.23,445.47 L333.38,445.50 L334.53,445.54 L335.68,445.58 L336.83,445.63 L337.98,445.67 L339.13,445.72 L340.29,445.77 L341.44,445.84 L342.59,445.93 L343.74,446.06 L344.89,446.21 L346.04,446.38 L347.19,446.57 L348.34,446.78 L349.50,447.00 L350.65,447.23 L351.80,447.46 L352.95,447.71 L354.10,447.95 L355.25,448.19 L356.40,448.43 L357.55,448.68 L358.71,448.97 L359.86,449.29 L361.01,449.68 L362.16,450.13 L363.31,450.67 L364.46,451.84 L365.61,453.78 L366.76,455.90 L367.92,457.60 L369.07,458.30 L370.22,458.24 L371.37,458.10 L372.52,457.88 L373.67,457.63 L374.82,457.37 L375.97,457.13 L377.12,456.94 L378.28,456.77 L379.43,456.60 L380.58,456.42 L381.73,456.25 L382.88,456.09 L384.03,455.94 L385.18,455.81 L386.33,455.70 L387.49,455.62 L388.64,455.58 L389.79,455.55 L390.94,455.53 L392.09,455.51 L393.24,455.49 L394.39,455.48 L395.55,455.47 L396.70,455.46 L397.85,455.45 L399.00,455.44 L400.15,455.43 L401.30,455.43 L402.45,455.42 L403.60,455.41 L404.75,455.40 L405.91,455.39 L407.06,455.38 L408.21,455.36 L409.36,455.35 L410.51,455.33 L411.66,455.30 L412.81,455.27 L413.97,455.22 L415.12,455.15 L416.27,455.07 L417.42,454.97 L418.57,454.86 L419.72,454.74 L420.87,454.61 L422.02,454.47 L423.18,454.32 L424.33,454.16 L425.48,454.00 L426.63,453.84 L427.78,453.67 L428.93,453.50 L430.08,453.33 L431.23,453.16 L432.38,452.98 L433.54,452.78 L434.69,452.56 L435.84,452.33 L436.99,452.08 L438.14,451.83 L439.29,451.58 L440.44,451.33 L441.60,451.09 L442.75,450.85 L443.90,450.64 L445.05,450.43 L446.20,450.22 L447.35,450.02 L448.50,449.81 L449.65,449.58 L450.80,449.34 L451.96,449.07 L453.11,448.76 L454.26,448.32 L455.41,447.73 L456.56,447.14 L457.71,446.71 L458.86,446.61 L460.02,447.50 L461.17,449.27 L462.32,451.49 L463.47,454.86 L464.62,457.48 L465.08,457.48" stroke-width="1.2" stroke-dasharray="2.7 1.2"/>
<path d="M78.45,453.94 L78.95,453.82 L80.10,453.70 L81.25,453.59 L82.41,453.48 L83.56,453.37 L84.71,453.26 L85.86,453.16 L87.01,453.06 L88.16,452.96 L89.31,452.87 L90.46,452.78 L91.61,452.70 L92.77,452.62 L93.92,452.55 L95.07,452.48 L96.22,452.42 L97.37,452.36 L98.52,452.31 L99.67,452.26 L100.82,452.21 L101.98,452.16 L103.13,452.11 L104.28,452.06 L105.43,452.02 L106.58,451.98 L107.73,451.94 L108.88,451.90 L110.03,451.87 L111.19,451.84 L112.34,451.81 L113.49,451.79 L114.64,451.77 L115.79,451.76 L116.94,451.76 L118.09,451.78 L119.25,451.82 L120.40,451.88 L121.55,451.97 L122.70,452.07 L123.85,452.20 L125.00,452.34 L126.15,452.49 L127.30,452.65 L128.45,452.82 L129.61,453.00 L130.76,453.18 L131.91,453.36 L133.06,453.54 L134.21,453.72 L135.36,453.89 L136.51,454.06 L137.66,454.21 L138.82,454.37 L139.97,454.56 L141.12,454.75 L142.27,454.96 L143.42,455.18 L144.57,455.40 L145.72,455.61 L146.88,455.82 L148.03,456.02 L149.18,456.20 L150.33,456.35 L151.48,456.48 L152.63,456.58 L153.78,456.64 L154.93,456.67 L156.08,456.66 L157.24,456.66 L158.39,456.66 L159.54,456.65 L160.69,456.64 L161.84,456.63 L162.99,456.61 L164.14,456.60 L165.30,456.58 L166.45,456.56 L167.60,456.54 L168.75,456.52 L169.90,456.50 L171.05,456.47 L172.20,456.45 L173.35,456.42 L174.50,456.39 L175.66,456.36 L176.81,456.30 L177.96,456.22 L179.11,456.14 L180.26,456.03 L181.41,455.91 L182.56,455.78 L183.72,455.64 L184.87,455.50 L186.02,455.34 L187.17,455.18 L188.32,455.01 L189.47,454.84 L190.62,454.67 L191.77,454.50 L192.93,454.32 L194.08,454.15 L195.23,453.99 L196.38,453.82 L197.53,453.67 L198.68,453.51 L199.83,453.34 L200.98,453.15 L202.13,452.96 L203.29,452.76 L204.44,452.56 L205.59,452.36 L206.74,452.16 L207.89,451.97 L209.04,451.78 L210.19,451.60 L211.35,451.43 L212.50,451.28 L213.65,451.15 L214.80,451.04 L215.95,450.94 L217.10,450.86 L218.25,450.79 L219.40,450.71 L220.56,450.64 L221.71,450.57 L222.86,450.52 L224.01,450.47 L225.16,450.43 L226.31,450.41 L227.46,450.40 L228.61,450.42 L229.76,450.48 L230.92,450.57 L232.07,450.69 L233.22,450.83 L234.37,451.00 L235.52,451.18 L236.67,451.37 L237.82,451.58 L238.97,451.79 L240.13,451.99 L241.28,452.20 L242.43,452.39 L243.58,452.58 L244.73,452.77 L245.88,452.98 L247.03,453.21 L248.19,453.46 L249.34,453.72 L250.49,454.00 L251.64,454.27 L252.79,454.55 L253.94,454.83 L255.09,455.11 L256.24,455.38 L257.39,455.64 L258.55,455.88 L259.70,456.11 L260.85,456.32 L262.00,456.50 L263.15,456.65 L264.30,456.78 L265.45,456.87 L266.61,456.92 L267.76,456.94 L268.91,456.94 L270.06,456.94 L271.21,456.94 L272.36,456.94 L273.51,456.94 L274.66,456.94 L275.81,456.94 L276.97,456.94 L278.12,456.94 L279.27,456.94 L280.42,456.94 L281.57,456.94 L282.72,456.94 L283.87,456.94 L285.02,456.94 L286.18,456.91 L287.33,456.81 L288.48,456.67 L289.63,456.48 L290.78,456.25 L291.93,455.99 L293.08,455.70 L294.24,455.40 L295.39,455.08 L296.54,454.76 L297.69,454.36 L298.84,453.83 L299.99,453.20 L301.14,452.51 L302.29,451.77 L303.44,451.02 L304.60,450.28 L305.75,449.60 L306.90,448.99 L308.05,448.49 L309.20,448.04 L310.35,447.58 L311.50,447.12 L312.66,446.69 L313.81,446.32 L314.96,446.03 L316.11,445.84 L317.26,445.77 L318.41,445.77 L319.56,445.77 L320.71,445.78 L321.87,445.79 L323.02,445.81 L324.17,445.82 L325.32,445.84 L326.47,445.86 L327.62,445.89 L328.77,445.91 L329.92,445.94 L331.07,445.98 L332.23,446.01 L333.38,446.05 L334.53,446.09 L335.68,446.13 L336.83,446.17 L337.98,446.22 L339.13,446.26 L340.29,446.31 L341.44,446.38 L342.59,446.48 L343.74,446.60 L344.89,446.75 L346.04,446.92 L347.19,447.12 L348.34,447.32 L349.50,447.54 L350.65,447.77 L351.80,448.01 L352.95,448.25 L354.10,448.49 L355.25,448.73 L356.40,448.97 L357.55,449.23 L358.71,449.52 L359.86,449.85 L361.01,450.23 L362.16,450.69 L363.31,451.22 L364.46,452.32 L365.61,454.13 L366.76,456.08 L367.92,457.66 L369.07,458.30 L370.22,458.23 L371.37,458.05 L372.52,457.79 L373.67,457.48 L374.82,457.17 L375.97,456.88 L377.12,456.67 L378.28,456.49 L379.43,456.31 L380.58,456.13 L381.73,455.96 L382.88,455.80 L384.03,455.65 L385.18,455.53 L386.33,455.42 L387.49,455.35 L388.64,455.30 L389.79,455.28 L390.94,455.25 L392.09,455.23 L393.24,455.21 L394.39,455.18 L395.55,455.16 L396.70,455.15 L397.85,455.13 L399.00,455.11 L400.15,455.10 L401.30,455.09 L402.45,455.07 L403.60,455.06 L404.75,455.06 L405.91,455.05 L407.06,455.04 L408.21,455.04 L409.36,455.03 L410.51,455.03 L411.66,455.03 L412.81,455.03 L413.97,455.03 L415.12,455.04 L416.27,455.04 L417.42,455.05 L418.57,455.05 L419.72,455.06 L420.87,455.07 L422.02,455.08 L423.18,455.10 L424.33,455.11 L425.48,455.13 L426.63,455.14 L427.78,455.16 L428.93,455.18 L430.08,455.20 L431.23,455.23 L432.38,455.25 L433.54,455.28 L434.69,455.30 L435.84,455.38 L436.99,455.54 L438.14,455.76 L439.29,456.02 L440.44,456.28 L441.60,456.53 L442.75,456.74 L443.90,456.88 L445.05,456.94 L446.20,456.85 L447.35,456.61 L448.50,456.24 L449.65,455.79 L450.80,455.28 L451.96,454.74 L453.11,454.21 L454.26,453.52 L455.41,452.60 L456.56,451.62 L457.71,450.77 L458.86,450.23 L460.02,450.26 L461.17,451.48 L462.32,453.41 L463.47,455.68 L464.62,457.48 L465.08,457.48" stroke-width="2.2" stroke-dasharray="2.1 1.76"/>
</g>
<path d="M78.45,10.5 H538.65 V201.5" fill="none" stroke="#000" stroke-width="1.3"/>
<path d="M78.45,10.5 V201.5 H538.65" fill="none" stroke="#000" stroke-width="1.35"/>
<path d="M74.0,201.50 H78.45 M74.0,169.67 H78.45 M74.0,137.83 H78.45 M74.0,106.00 H78.45 M74.0,74.17 H78.45 M74.0,42.33 H78.45 M74.0,10.50 H78.45 M78.45,201.5 V206.2 M193.50,201.5 V206.2 M308.55,201.5 V206.2 M423.60,201.5 V206.2 M538.65,201.5 V206.2 " fill="none" stroke="#000" stroke-width="1.3"/>
<path d="M78.45,267.6 H538.65 V458.3" fill="none" stroke="#000" stroke-width="1.3"/>
<path d="M78.45,267.6 V458.3 H538.65" fill="none" stroke="#000" stroke-width="1.35"/>
<path d="M74.0,458.30 H78.45 M74.0,431.06 H78.45 M74.0,403.81 H78.45 M74.0,376.57 H78.45 M74.0,349.33 H78.45 M74.0,322.09 H78.45 M74.0,294.84 H78.45 M74.0,267.60 H78.45 M78.45,458.3 V463.0 M193.50,458.3 V463.0 M308.55,458.3 V463.0 M423.60,458.3 V463.0 M538.65,458.3 V463.0 " fill="none" stroke="#000" stroke-width="1.3"/>
<g font-size="13.7">
<text x="66.3" y="205.8" text-anchor="end" transform="rotate(0.2 66.3 205.8)">0.00</text>
<text x="66.3" y="174.0" text-anchor="end" transform="rotate(0.2 66.3 174.0)">0.20</text>
<text x="66.3" y="142.1" text-anchor="end" transform="rotate(0.2 66.3 142.1)">0.40</text>
<text x="66.3" y="110.3" text-anchor="end" transform="rotate(0.2 66.3 110.3)">0.60</text>
<text x="66.3" y="78.5" text-anchor="end" transform="rotate(0.2 66.3 78.5)">0.80</text>
<text x="66.3" y="46.6" text-anchor="end" transform="rotate(0.2 66.3 46.6)">1.00</text>
<text x="66.3" y="14.8" text-anchor="end" transform="rotate(0.2 66.3 14.8)">1.20</text>
<text x="66.3" y="462.6" text-anchor="end" transform="rotate(0.2 66.3 462.6)">0.00</text>
<text x="66.3" y="435.4" text-anchor="end" transform="rotate(0.2 66.3 435.4)">0.01</text>
<text x="66.3" y="408.1" text-anchor="end" transform="rotate(0.2 66.3 408.1)">0.02</text>
<text x="66.3" y="380.9" text-anchor="end" transform="rotate(0.2 66.3 380.9)">0.03</text>
<text x="66.3" y="353.6" text-anchor="end" transform="rotate(0.2 66.3 353.6)">0.04</text>
<text x="66.3" y="326.4" text-anchor="end" transform="rotate(0.2 66.3 326.4)">0.05</text>
<text x="66.3" y="299.1" text-anchor="end" transform="rotate(0.2 66.3 299.1)">0.06</text>
<text x="66.3" y="271.9" text-anchor="end" transform="rotate(0.2 66.3 271.9)">0.07</text>
<text x="78.5" y="222.3" text-anchor="middle" transform="rotate(0.2 78.5 222.3)">0</text>
<text x="193.5" y="222.3" text-anchor="middle" transform="rotate(0.2 193.5 222.3)">5</text>
<text x="308.6" y="222.3" text-anchor="middle" transform="rotate(0.2 308.6 222.3)">10</text>
<text x="423.6" y="222.3" text-anchor="middle" transform="rotate(0.2 423.6 222.3)">15</text>
<text x="538.6" y="222.3" text-anchor="middle" transform="rotate(0.2 538.6 222.3)">20</text>
<text x="78.5" y="479.1" text-anchor="middle" transform="rotate(0.2 78.5 479.1)">0</text>
<text x="193.5" y="479.1" text-anchor="middle" transform="rotate(0.2 193.5 479.1)">5</text>
<text x="308.6" y="479.1" text-anchor="middle" transform="rotate(0.2 308.6 479.1)">10</text>
<text x="423.6" y="479.1" text-anchor="middle" transform="rotate(0.2 423.6 479.1)">15</text>
<text x="538.6" y="479.1" text-anchor="middle" transform="rotate(0.2 538.6 479.1)">20</text>
</g>
<g font-size="16">
<text x="6.5" y="30.6" transform="rotate(0.2 6.5 30.6)"><tspan font-style="italic">I</tspan> [A]</text>
<text x="480.2" y="239.7" transform="rotate(0.2 480.2 239.7)"><tspan font-style="italic">V</tspan> [V]</text>
<text x="11.3" y="287.6" transform="rotate(0.2 11.3 287.6)">Δ<tspan font-style="italic">I</tspan></text>
<text x="10.5" y="307.6" transform="rotate(0.2 10.5 307.6)">[A]</text>
<text x="480.2" y="496.0" transform="rotate(0.2 480.2 496.0)"><tspan font-style="italic">V</tspan> [V]</text>
</g>
<g fill="none" stroke="#000">
<path d="M120.4,98.7 H156.7" stroke-width="1.6" />
<path d="M120.4,120.1 H156.7" stroke-width="1.35" stroke-dasharray="7.2 3.27"/>
<path d="M120.4,141.4 H156.7" stroke-width="1.3" stroke-dasharray="4.25 2.52"/>
<path d="M120.4,162.8 H156.7" stroke-width="1.2" stroke-dasharray="2.7 1.2"/>
<path d="M120.4,184.2 H156.7" stroke-width="2.2" stroke-dasharray="2.1 1.76"/>
</g>
<g font-size="13.6">
<text x="161.3" y="103.1" transform="rotate(0.2 161.3 103.1)">1D</text>
<text x="161.3" y="124.5" transform="rotate(0.2 161.3 124.5)">1D/1R</text>
<text x="161.3" y="145.8" transform="rotate(0.2 161.3 145.8)">1D/2R-1</text>
<text x="161.3" y="167.2" transform="rotate(0.2 161.3 167.2)">1D/2R-2</text>
<text x="161.3" y="188.6" transform="rotate(0.2 161.3 188.6)">2D/2R</text>
</g>
<circle cx="138.8" cy="77.9" r="3.5" fill="#fff" stroke="#000" stroke-width="1.3"/>
<g font-size="13.6"><text x="160.0" y="81.6" transform="rotate(0.2 160.0 81.6)" letter-spacing="0.2">Testing data</text></g>
<g fill="none" stroke="#000">
<path d="M123.4,297.2 H158.6" stroke-width="1.6" />
<path d="M123.4,322.6 H158.6" stroke-width="1.35" stroke-dasharray="7.2 3.27"/>
<path d="M123.4,348.0 H158.6" stroke-width="1.3" stroke-dasharray="4.25 2.52"/>
<path d="M123.4,373.5 H158.6" stroke-width="1.2" stroke-dasharray="2.7 1.2"/>
<path d="M123.4,398.9 H158.6" stroke-width="2.2" stroke-dasharray="2.1 1.76"/>
</g>
<g font-size="13.6">
<text x="164.3" y="301.6" transform="rotate(0.2 164.3 301.6)">1D</text>
<text x="164.3" y="327.0" transform="rotate(0.2 164.3 327.0)">1D/1R</text>
<text x="164.3" y="352.4" transform="rotate(0.2 164.3 352.4)">1D/2R-1</text>
<text x="164.3" y="377.9" transform="rotate(0.2 164.3 377.9)">1D/2R-2</text>
<text x="164.3" y="403.3" transform="rotate(0.2 164.3 403.3)">2D/2R</text>
</g>
</svg>
</body></html>
